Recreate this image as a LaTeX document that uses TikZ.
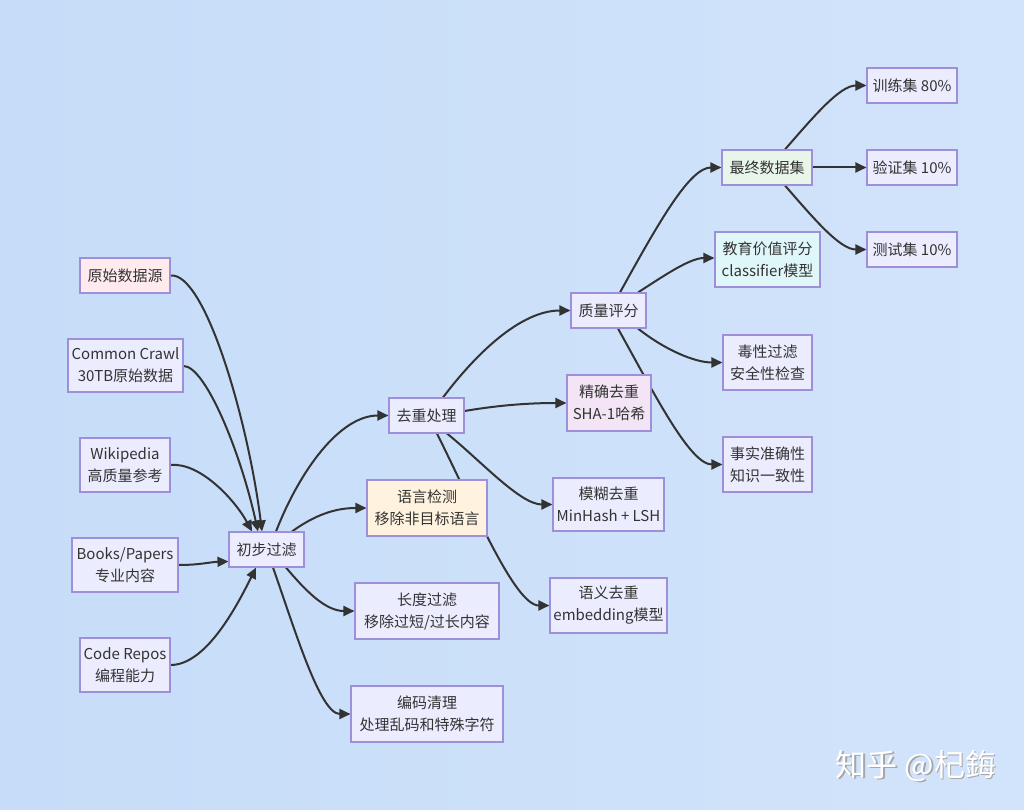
\documentclass[tikz,border=0pt]{standalone}
\usepackage{fontspec}
\setmainfont{Noto Sans CJK SC}
\usetikzlibrary{arrows.meta}
\definecolor{nodefill}{HTML}{ECECFF}
\definecolor{nodeborder}{HTML}{9E8FDA}
\definecolor{textc}{HTML}{333333}
\definecolor{edgec}{HTML}{333333}
\definecolor{pinkfill}{HTML}{FFEBEE}
\definecolor{orangefill}{HTML}{FFF3E0}
\definecolor{greenfill}{HTML}{E8F5E9}
\definecolor{cyanfill}{HTML}{E0F7FA}
\definecolor{purplefill}{HTML}{F3E5F5}
\definecolor{bgleft}{HTML}{C6DCF8}
\definecolor{bgright}{HTML}{D2E4FB}
\pgfdeclarelayer{bg}
\pgfdeclarelayer{edges}
\pgfsetlayers{bg,edges,main}
\begin{document}
\begin{tikzpicture}[x=1pt,y=-1pt,
  box/.style={draw=nodeborder, fill=nodefill, line width=1.1pt, text=textc, align=center,
    inner sep=0pt, font=\fontsize{15}{22}\selectfont},
  edge/.style={draw=edgec, line width=2pt, -{Triangle[length=11pt,width=10pt]}}]
\useasboundingbox (0,0) rectangle (1024,810);
\begin{pgfonlayer}{bg}
\shade[left color=bgleft, right color=bgright] (0,0) rectangle (1024,810);
\end{pgfonlayer}

% nodes
\node[box, fill=pinkfill, minimum width=90pt, minimum height=35pt] (src) at (125,275.5) {原始数据源};
\node[box, minimum width=115pt, minimum height=53pt] (cc) at (125.5,365.5) {Common Crawl\\30TB原始数据};
\node[box, minimum width=90pt, minimum height=54pt] (wiki) at (125,465) {Wikipedia\\高质量参考};
\node[box, minimum width=106pt, minimum height=54pt] (books) at (125,565) {Books/Papers\\专业内容};
\node[box, minimum width=90pt, minimum height=54pt] (code) at (125,665) {Code Repos\\编程能力};
\node[box, minimum width=75pt, minimum height=35pt] (init) at (266.5,549.5) {初步过滤};
\node[box, minimum width=75pt, minimum height=35pt] (dedup) at (426.5,415.5) {去重处理};
\node[box, fill=orangefill, minimum width=120pt, minimum height=56pt] (lang) at (427,508) {语言检测\\移除非目标语言};
\node[box, minimum width=144pt, minimum height=56pt] (len) at (427,611) {长度过滤\\移除过短/过长内容};
\node[box, minimum width=152pt, minimum height=56pt] (enc) at (427,714) {编码清理\\处理乱码和特殊字符};
\node[box, minimum width=75pt, minimum height=35pt] (qual) at (608.5,310.5) {质量评分};
\node[box, fill=purplefill, minimum width=84pt, minimum height=56pt] (exact) at (609,403) {精确去重\\SHA-1哈希};
\node[box, minimum width=111pt, minimum height=53pt] (fuzzy) at (608.5,504.5) {模糊去重\\MinHash + LSH};
\node[box, minimum width=117pt, minimum height=55pt] (sem) at (608.5,605.5) {语义去重\\embedding模型};
\node[box, fill=greenfill, minimum width=90pt, minimum height=35pt] (final) at (767,167.5) {最终数据集};
\node[box, fill=cyanfill, minimum width=105pt, minimum height=55pt] (edu) at (767.5,259.5) {教育价值评分\\classifier模型};
\node[box, minimum width=89pt, minimum height=55pt] (tox) at (767.5,362.5) {毒性过滤\\安全性检查};
\node[box, minimum width=89pt, minimum height=55pt] (fact) at (767.5,464.5) {事实准确性\\知识一致性};
\node[box, minimum width=90pt, minimum height=35pt] (train) at (912,85.5) {训练集 80\%};
\node[box, minimum width=90pt, minimum height=35pt] (val) at (912,167.5) {验证集 10\%};
\node[box, minimum width=90pt, minimum height=35pt] (test) at (912,249.5) {测试集 10\%};

% watermark
\node[font=\fontsize{31}{31}\selectfont, text=black!35] (wmshadow) at (917.3,767.3) {知乎 @杞鋂};
\node[font=\fontsize{31}{31}\selectfont, text=white] (wm) at (916,766) {知乎 @杞鋂};

% edges
\begin{pgfonlayer}{edges}
\draw[edge] (src.east) .. controls (205,272) and (248,420) .. ([xshift=-4.5pt]init.north);
\draw[edge] ([yshift=-0.5pt]cc.east) .. controls (205,366) and (240,450) .. ([xshift=-8.5pt]init.north);
\draw[edge] (wiki.east) .. controls (200,462) and (235,500) .. ([xshift=-14.5pt]init.north);
\draw[edge] (books.east) .. controls (200,565) and (210,562) .. ([yshift=-12pt]init.west);
\draw[edge] (code.east) .. controls (205,665) and (235,610) .. ([xshift=-10.5pt]init.south);

\draw[edge] ([xshift=9.5pt]init.north) .. controls (300,470) and (340,415.5) .. (dedup.west);
\draw[edge] ([xshift=25.5pt]init.north) .. controls (315,515) and (335,508) .. (lang.west);
\draw[edge] ([xshift=19.5pt]init.south) .. controls (305,590) and (325,611) .. (len.west);
\draw[edge] ([xshift=6.5pt]init.south) .. controls (295,630) and (320,714) .. (enc.west);

\draw[edge] ([xshift=16.5pt]dedup.north) .. controls (475,355) and (520,310.5) .. (qual.west);
\draw[edge] ([yshift=4.5pt]dedup.east) .. controls (500,405) and (530,403) .. (exact.west);
\draw[edge] ([xshift=20.5pt]dedup.south) .. controls (480,460) and (520,504.5) .. (fuzzy.west);
\draw[edge] ([xshift=10.5pt]dedup.south) .. controls (475,510) and (515,605.5) .. (sem.west);

\draw[edge] ([xshift=11.5pt]qual.north) .. controls (660,220) and (690,167.5) .. (final.west);
\draw[edge] ([xshift=29.5pt]qual.north) .. controls (665,275) and (690,258) .. ([yshift=1.5pt]edu.west);
\draw[edge] ([xshift=29.5pt]qual.south) .. controls (665,350) and (695,362.5) .. (tox.west);
\draw[edge] ([xshift=9.5pt]qual.south) .. controls (655,395) and (690,464.5) .. (fact.west);

\draw[edge] ([xshift=18pt]final.north) .. controls (815,115) and (840,85.5) .. (train.west);
\draw[edge] (final.east) -- (val.west);
\draw[edge] ([xshift=18pt]final.south) .. controls (815,220) and (840,249.5) .. (test.west);
\end{pgfonlayer}
\end{tikzpicture}
\end{document}
